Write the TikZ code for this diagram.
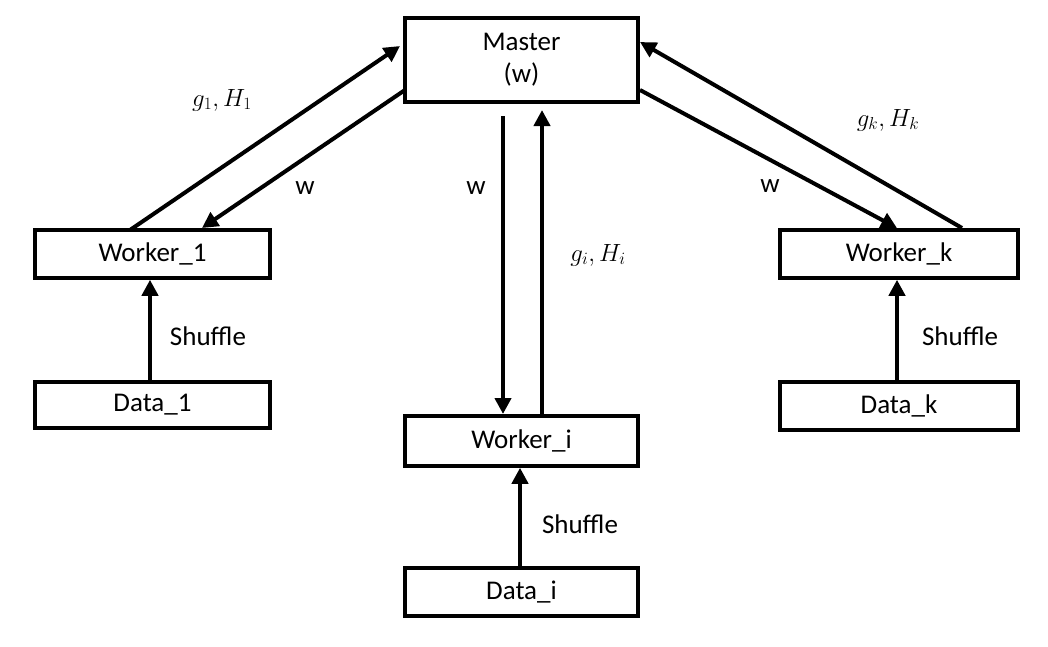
\documentclass[tikz,border=0pt]{standalone}
\usepackage{fontspec}
\setmainfont{Carlito}
\usetikzlibrary{arrows.meta}
\begin{document}
\begin{tikzpicture}[x=1pt,y=-1pt,
 box/.style={draw,line width=3.5pt,inner sep=0},
 ar/.style={line width=4pt,-{Triangle[length=16pt,width=16pt]}},
 lb/.style={font=\fontsize{27}{32}\selectfont}]
\useasboundingbox (0,0) rectangle (1048,646);
\fontsize{27}{32}\selectfont
\node[box,minimum width=233pt,minimum height=84pt,align=center] (m) at (521.5,60) {Master\\(w)};
\node[box,minimum width=235pt,minimum height=48pt] (w1) at (152.5,254) {Worker\_1};
\node[box,minimum width=235pt,minimum height=46pt] (d1) at (152.5,405) {Data\_1};
\node[box,minimum width=233pt,minimum height=50pt] (wi) at (521.5,441) {Worker\_i};
\node[box,minimum width=233pt,minimum height=48pt] (di) at (521.5,592) {Data\_i};
\node[box,minimum width=238pt,minimum height=48pt] (wk) at (899,254) {Worker\_k};
\node[box,minimum width=238pt,minimum height=48pt] (dk) at (899,406) {Data\_k};
\coordinate (a1) at (130,230); \coordinate (a2) at (400,46);
\coordinate (b1) at (405,90); \coordinate (b2) at (202,228);
\draw[ar] (a1) -- (a2);
\draw[ar] (b1) -- (b2);
\coordinate (c1) at (503,116); \coordinate (c2) at (503,414);
\coordinate (e1) at (542,414); \coordinate (e2) at (542,110);
\draw[ar] (c1) -- (c2);
\draw[ar] (e1) -- (e2);
\coordinate (f1) at (640,90); \coordinate (f2) at (897,228);
\coordinate (h1) at (962,228); \coordinate (h2) at (640,42);
\draw[ar] (f1) -- (f2);
\draw[ar] (h1) -- (h2);
\draw[ar] (d1.north -| 150,0) -- (w1.south -| 150,0);
\draw[ar] (di.north -| 520,0) -- (wi.south -| 520,0);
\draw[ar] (dk.north -| 897,0) -- (wk.south -| 897,0);
\node[lb] (l1) at (222,100) {$g_1,H_1$};
\node[lb] (l2) at (305,188) {w};
\node[lb] (l3) at (476,188) {w};
\node[lb] (l4) at (598,255) {$g_i,H_i$};
\node[lb] (l5) at (770,186) {w};
\node[lb] (l6) at (888,120) {$g_k,H_k$};
\node[lb] (s1) at (208,336) {Shuffle};
\node[lb] (s2) at (580,524) {Shuffle};
\node[lb] (s3) at (960,336) {Shuffle};
\end{tikzpicture}
\end{document}
